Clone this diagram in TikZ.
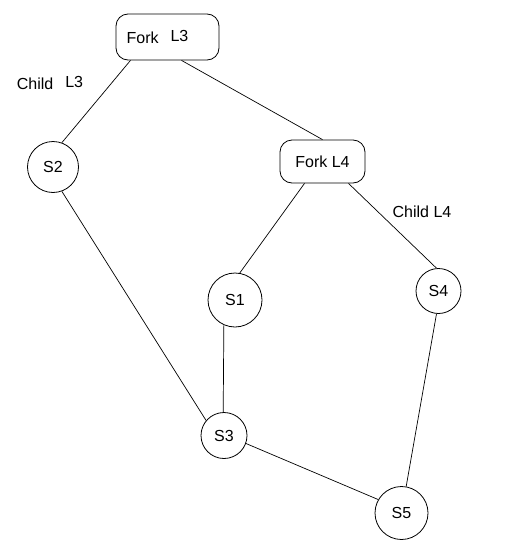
\documentclass[tikz,border=0pt]{standalone}
\usepackage{fontspec}
\setmainfont{Liberation Sans}
\begin{document}
\begin{tikzpicture}[x=1pt,y=-1pt,
  every node/.style={font=\fontsize{16}{18}\selectfont},
  forkbox/.style={draw,rounded corners=12pt,line width=0.8pt,inner sep=0pt},
  state/.style={draw,circle,line width=0.8pt,inner sep=0pt},
  edge/.style={line width=0.7pt}]
\useasboundingbox[fill=white] (0,0) rectangle (531,551);
\node[forkbox,minimum width=103pt,minimum height=46pt] (f3) at (167.5,37) {Fork\hspace{12pt}\raisebox{1.5pt}{L3}\kern20pt\mbox{}};
\node[forkbox,minimum width=85pt,minimum height=43pt] (f4) at (322.5,161.5) {Fork L4};
\node[state,minimum size=51pt] (s2) at (53,167) {S2};
\node[state,minimum size=54pt] (s1) at (235,300) {S1};
\node[state,minimum size=45pt] (s4) at (438.5,291) {S4};
\node[state,minimum size=46pt] (s3) at (224,435.5) {S3};
\node[state,minimum size=53pt] (s5) at (401.5,513) {S5};
\node (c3) at (50,83) {Child\hspace{12pt}\raisebox{1.5pt}{L3}};
\node (c4) at (422,212) {Child L4};
\draw[edge] ([xshift=-37pt]f3.south) -- (s2.70);
\draw[edge] ([xshift=14pt]f3.south) -- (f4.north);
\draw[edge] ([xshift=-18pt]f4.south) -- (s1.80);
\draw[edge] ([xshift=26pt]f4.south) -- (s4.95);
\draw[edge] (s1.246) -- (s3.92);
\draw[edge] (s2.-70) -- (s3.140);
\draw[edge] (s3.-20) -- (s5.150);
\draw[edge] (s4.-95) -- (s5.80);
\end{tikzpicture}
\end{document}
